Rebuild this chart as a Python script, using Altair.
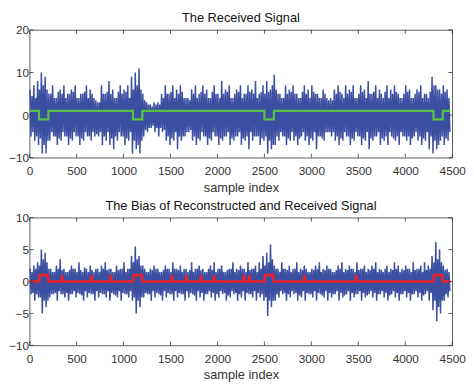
import altair as alt
import pandas as pd

# ---------------- data ----------------
BIN = 40  # samples per envelope bin
x_ticks = [0, 500, 1000, 1500, 2000, 2500, 3000, 3500, 4000, 4500]
top_y_ticks = [-10, 0, 10, 20]
bot_y_ticks = [-10, -5, 0, 5, 10]

# received signal: outer excursions (hi/lo) and inner excursions (hi2/lo2) per bin
top_hi = [6, 7, 8, 10, 9, 5, 7, 4, 6, 7,
          5, 6, 7, 4, 5, 7, 6, 4, 3, 7,
          5, 8, 6, 4, 7, 6, 7, 9, 10, 11,
          5, 3, 2.5, 3, 3, 5, 7, 5, 7, 6,
          7, 4, 4, 6, 7, 5, 7, 6, 4, 7,
          5, 8, 6, 7, 4, 6, 7, 5, 7, 6,
          8, 5, 7, 8, 6, 9.5, 5, 4, 7, 6,
          7, 5, 4, 7, 6, 7, 5, 4, 6, 4,
          4, 6, 7, 5, 7, 6, 7, 4, 7, 6,
          8, 5, 7, 6, 4, 7, 6, 7, 5, 4,
          7, 6, 4, 6, 7, 5, 4, 9, 7, 6,
          7, 6]
top_lo = [-5, -6, -7, -9, -9, -6, -5, -7, -6, -5,
          -7, -6, -5, -7, -6, -5, -6, -5, -5, -7,
          -6, -7, -8, -6, -5, -7, -6, -9, -8, -9,
          -5, -4, -3, -4, -5, -4, -6, -7, -6, -8,
          -6, -5, -4, -6, -7, -6, -5, -7, -6, -5,
          -7, -6, -5, -7, -6, -5, -7, -6, -8, -6,
          -5, -7, -6, -9, -8, -7, -6, -5, -7, -6,
          -6, -7, -5, -6, -7, -6, -8, -5, -6, -4,
          -5, -6, -7, -6, -5, -7, -6, -5, -7, -6,
          -8, -6, -5, -7, -6, -7, -5, -6, -7, -5,
          -6, -7, -5, -6, -7, -6, -8, -9, -8, -6,
          -7, -6]
top_hi2 = [4.5, 4, 6, 7, 6, 5, 4, 5.5, 5, 4,
           5, 5.5, 4, 5, 5.5, 4, 5, 3.5, 3, 5,
           5.5, 5, 4, 5.5, 5, 5.5, 4, 6, 7, 6,
           3.5, 2.5, 2, 2.5, 2.5, 4, 5, 5.5, 4, 5,
           5.5, 4, 3.5, 5, 4, 5.5, 5, 4, 5.5, 5,
           4, 5, 5.5, 4, 5, 5.5, 4, 5, 5.5, 5,
           4, 5.5, 5, 5.5, 7, 6, 5, 4, 5, 5.5,
           5, 4, 5.5, 5, 4, 5.5, 5, 4, 5, 3.5,
           3.5, 5, 5.5, 4, 5, 5.5, 4, 5, 5.5, 4,
           5, 5.5, 4, 5, 5.5, 4, 5, 5.5, 4, 5,
           5.5, 4, 5, 5.5, 4, 5, 5.5, 7, 6, 5,
           5.5, 4]
top_lo2 = [-4, -5, -5.5, -7, -6, -4, -5, -5.5, -4, -5,
           -5.5, -4, -5, -5.5, -4, -5, -4, -4.5, -4, -5,
           -4, -5.5, -5, -4, -5, -5.5, -4, -6, -7, -6,
           -3.5, -3, -2.5, -3, -3, -3.5, -5, -5.5, -4, -5,
           -5, -4, -3.5, -5, -5.5, -4, -5, -5.5, -4, -5,
           -5.5, -5, -4, -5.5, -5, -4, -5.5, -5, -4, -5,
           -5, -5.5, -5, -6, -7, -5, -4, -5, -5.5, -4,
           -5, -5.5, -4, -5, -5.5, -4, -5, -5.5, -4, -4,
           -4, -5, -5.5, -4, -5, -5.5, -4, -5, -5.5, -4,
           -5.5, -5, -4, -5.5, -5, -4, -5.5, -5, -4, -5,
           -5, -5.5, -4, -5, -5.5, -4, -5, -6, -7, -5,
           -5.5, -4]

# bias signal
bot_hi = [2, 2.5, 3, 5, 4.5, 2, 1.5, 2.5, 3.5, 2,
          1.5, 2.5, 2, 3, 1.5, 2, 2.5, 1.5, 2, 2.5,
          3, 2, 1.5, 2.5, 2, 3, 2, 4, 5.5, 4,
          2.5, 1.5, 2, 2.5, 2, 1.5, 2.5, 2, 3, 2,
          2.5, 2, 1.5, 3, 2, 2.5, 2, 1.5, 2.5, 3,
          2, 2.5, 1.5, 2, 3, 2, 2.5, 2, 3, 2,
          2.5, 3, 4, 4.5, 5.8, 2.5, 2, 3, 2, 2.5,
          2, 3, 2, 2.5, 1.5, 2, 2.5, 3, 2, 2.5,
          2, 1.5, 2.5, 3, 2, 2.5, 2, 3, 2, 2.5,
          2, 2.5, 3, 2, 1.5, 2.5, 2, 3, 2.5, 2,
          2.5, 2, 3, 2, 2.5, 3, 2.5, 4, 6.2, 5,
          2.5, 2]
bot_lo = [-2, -3, -2.5, -5, -4, -2.5, -2, -3, -2, -2.5,
          -3, -2, -2.5, -2, -3, -2.5, -2, -3, -2.5, -2,
          -2.5, -3, -2, -2.5, -3, -2, -2.5, -3, -5, -4,
          -2.5, -2, -3, -2.5, -2, -3, -2.5, -2, -3, -2.5,
          -2, -3, -2.5, -2, -3, -2.5, -3, -2, -2.5, -3,
          -2.5, -2, -3, -2.5, -2, -3, -2.5, -3, -2, -2.5,
          -3, -2.5, -3, -5.4, -4, -3, -2.5, -2, -3, -2.5,
          -2, -3, -2.5, -3, -2, -2.5, -3, -2, -2.5, -3,
          -2.5, -2, -3, -2.5, -2, -3, -2.5, -2, -3, -2.5,
          -2, -2.5, -3, -2, -2.5, -3, -2, -2.5, -3, -2,
          -2.5, -3, -2, -2.5, -3, -2, -3, -4.5, -6.2, -5,
          -3, -2.5]
bot_hi2 = [1.5, 2, 2.5, 3.5, 3, 2, 1.5, 2, 1.8, 1.5,
           1.8, 2, 1.5, 1.8, 2.2, 1.5, 1.8, 2, 1.5, 2,
           1.8, 2, 1.5, 1.8, 2, 1.5, 2, 3, 3.5, 2.5,
           2, 1.5, 1.8, 2, 1.5, 1.8, 2, 1.5, 2, 1.8,
           1.5, 2, 1.8, 1.5, 2, 1.8, 1.5, 2, 1.8, 1.5,
           2, 1.5, 1.8, 2, 1.5, 1.8, 2, 1.5, 1.8, 2,
           1.5, 2, 2.5, 3, 3.5, 2, 1.5, 2, 1.8, 1.5,
           2, 1.5, 1.8, 2, 1.5, 1.8, 2, 1.5, 1.8, 2,
           1.5, 1.8, 2, 1.5, 1.8, 2, 1.5, 1.8, 2, 1.5,
           1.8, 2, 1.5, 1.8, 2, 1.5, 1.8, 2, 1.5, 1.8,
           2, 1.5, 1.8, 2, 1.5, 1.8, 2, 3, 3.5, 3,
           1.8, 1.5]
bot_lo2 = [-1.8, -2, -2.5, -3, -3, -2, -1.8, -1.5, -2, -1.8,
           -2, -1.5, -1.8, -2.2, -1.5, -1.8, -2, -1.5, -1.8, -2,
           -1.5, -1.8, -2.2, -1.5, -1.8, -2, -1.5, -2.5, -3, -2.5,
           -1.8, -2, -1.5, -1.8, -2.2, -1.5, -1.8, -2, -1.5, -1.8,
           -2, -1.5, -1.8, -2.2, -1.5, -1.8, -2, -1.5, -1.8, -2,
           -1.5, -1.8, -2.2, -1.5, -1.8, -2, -1.5, -1.8, -2, -1.5,
           -1.8, -2, -2.5, -3, -3, -2, -1.5, -1.8, -2, -1.5,
           -1.8, -2.2, -1.5, -1.8, -2, -1.5, -1.8, -2.2, -1.5, -1.8,
           -2, -1.5, -1.8, -2.2, -1.5, -1.8, -2, -1.5, -1.8, -2.2,
           -1.5, -1.8, -2, -1.5, -1.8, -2.2, -1.5, -1.8, -2, -1.5,
           -1.8, -2, -1.5, -1.8, -2.2, -1.5, -1.8, -3, -4, -3,
           -2, -1.5]

# transmitted symbols (green step line)
step_x = [0, 100, 200, 1100, 1200, 2500, 2600, 4300, 4400, 4480]
step_level = [1, -1, 1, -1, 1, -1, 1, -1, 1, 1]

# reconstruction bias (red line): plateaus and short spikes
plateaus = [(100, 200), (1100, 1200), (2500, 2600), (4300, 4400)]
spikes = [345, 657, 864, 1514, 1669, 1825, 1963, 2278, 2340, 2927, 3480]
END = 4480

# ---------------- build tables ----------------
def zigzag(hi, lo, hi2, lo2):
    rows = []
    for i in range(len(hi)):
        b = i * BIN
        rows += [{"x": b + 5, "y": hi[i]}, {"x": b + 15, "y": lo[i]},
                 {"x": b + 25, "y": hi2[i]}, {"x": b + 35, "y": lo2[i]}]
    return pd.DataFrame(rows)

top_sig = zigzag(top_hi, top_lo, top_hi2, top_lo2)
bot_sig = zigzag(bot_hi, bot_lo, bot_hi2, bot_lo2)
step_df = pd.DataFrame({"x": step_x, "y": step_level})

events = [(a, "p", b) for a, b in plateaus] + [(s, "s", None) for s in spikes]
events.sort()
red_rows = [{"x": 0, "y": 0}]
for a, kind, b in events:
    if kind == "p":
        red_rows += [{"x": a, "y": 0}, {"x": a + 6, "y": 1},
                     {"x": b - 6, "y": 1}, {"x": b, "y": 0}]
    else:
        red_rows += [{"x": a - 8, "y": 0}, {"x": a, "y": 1}, {"x": a + 8, "y": 0}]
red_rows.append({"x": END, "y": 0})
red_df = pd.DataFrame(red_rows)

# ---------------- styling ----------------
W, H = 430, 130
BLUE = "#3a4fa2"
FRAME = "#333333"
FONT = "Liberation Sans"
xs = alt.Scale(domain=[0, 4500], nice=False, zero=False)


def panel(sig_df, ref_df, ref_color, ref_width, interp, ydom, yticks, title):
    ys = alt.Scale(domain=ydom, nice=False, zero=False)
    xaxis = alt.Axis(values=x_ticks, title="sample index", ticks=False,
                     grid=False, domain=False, labelPadding=8, titlePadding=5,
                     format="d", labelFlush=False)
    yaxis = alt.Axis(values=yticks, title=None, ticks=False, grid=False,
                     domain=False, labelPadding=1, format="d")
    X = lambda f: alt.X(f, scale=xs, axis=xaxis, title="sample index")
    Y = lambda f: alt.Y(f, scale=ys, axis=yaxis, title=None)
    sig = alt.Chart(sig_df).mark_line(color=BLUE, strokeWidth=1.5).encode(
        x=X("x:Q"), y=Y("y:Q"))
    ref = alt.Chart(ref_df).mark_line(color=ref_color, strokeWidth=ref_width,
                                      interpolate=interp).encode(
        x=X("x:Q"), y=Y("y:Q"))
    xt = pd.DataFrame({"t": x_ticks})
    yt = pd.DataFrame({"t": yticks})
    tick = dict(color=FRAME, strokeWidth=0.8)
    xb = alt.Chart(xt).mark_rule(**tick).encode(
        x=X("t:Q"), y=alt.value(H), y2=alt.value(H - 4))
    xtp = alt.Chart(xt).mark_rule(**tick).encode(
        x=X("t:Q"), y=alt.value(0), y2=alt.value(4))
    yl = alt.Chart(yt).mark_rule(**tick).encode(
        y=Y("t:Q"), x=alt.value(0), x2=alt.value(4))
    yr = alt.Chart(yt).mark_rule(**tick).encode(
        y=Y("t:Q"), x=alt.value(W - 4), x2=alt.value(W))
    return alt.layer(sig, ref, xb, xtp, yl, yr).properties(
        width=W, height=H,
        title=alt.TitleParams(title, fontSize=13, font=FONT, fontWeight="normal",
                              color="#111111", offset=3, dy=4, anchor="middle"))


top = panel(top_sig, step_df, "#5cbf48", 2.2, "step-after",
            [-10, 20], top_y_ticks, "The Received Signal")
bot = panel(bot_sig, red_df, "#e8202c", 2.6, "linear",
            [-10, 10], bot_y_ticks, "The Bias of Reconstructed and Received Signal")

chart = alt.vconcat(top, bot, spacing=4).properties(padding=0).configure_view(
    stroke=FRAME, strokeWidth=0.8
).configure_axis(
    labelFont=FONT, labelFontSize=12, labelColor="#333333",
    titleFont=FONT, titleFontSize=13, titleColor="#333333", titleFontWeight="normal"
)

chart.save("out.html", embed_options={"renderer": "svg", "actions": False})
